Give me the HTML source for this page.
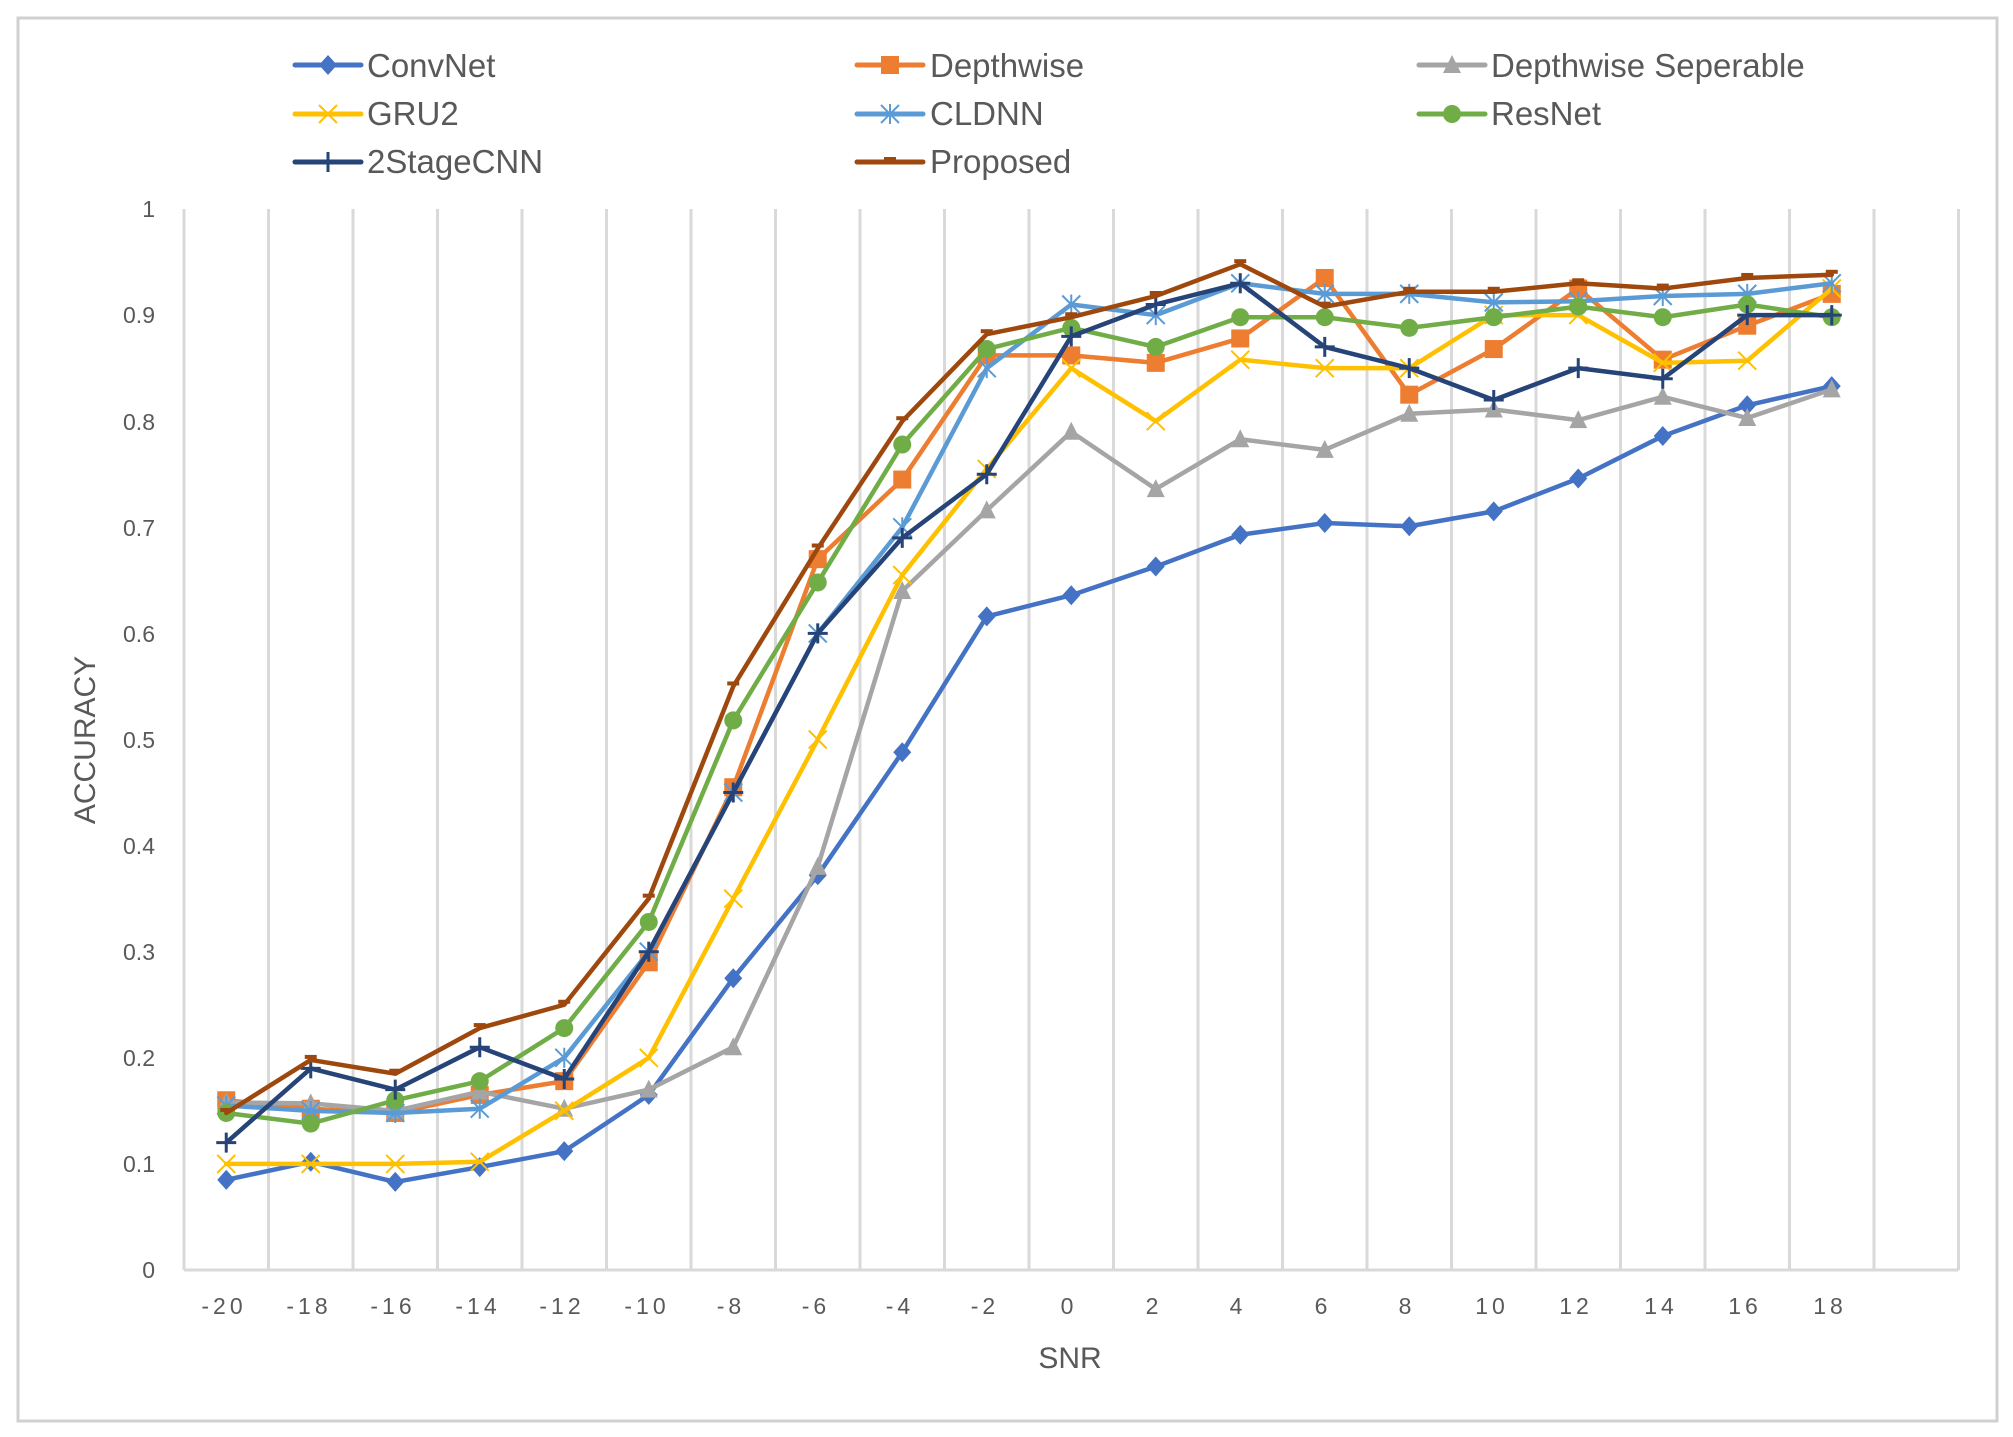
<!DOCTYPE html>
<html><head><meta charset="utf-8"><style>
html,body{margin:0;padding:0;background:#fff;}
svg{display:block;font-family:"Liberation Sans",sans-serif;}
</style></head><body>
<svg id="c" width="2013" height="1437" viewBox="0 0 2013 1437" xmlns="http://www.w3.org/2000/svg">
<rect x="18" y="18" width="1979" height="1403" fill="#fff" stroke="#d0d0d0" stroke-width="3"/>
<g id="grid" stroke="#d9d9d9" stroke-width="3"></g>
<g fill="#595959" font-size="23" text-anchor="end">
<text x="155" y="1278">0</text><text x="155" y="1172">0.1</text><text x="155" y="1066">0.2</text>
<text x="155" y="960">0.3</text><text x="155" y="854">0.4</text><text x="155" y="748">0.5</text>
<text x="155" y="642">0.6</text><text x="155" y="536">0.7</text><text x="155" y="430">0.8</text>
<text x="155" y="323">0.9</text><text x="155" y="217">1</text>
</g>
<g id="xl" fill="#595959" font-size="23" text-anchor="middle" letter-spacing="4">
<text x="224" y="1314">-20</text><text x="309" y="1314">-18</text><text x="393" y="1314">-16</text>
<text x="478" y="1314">-14</text><text x="562" y="1314">-12</text><text x="647" y="1314">-10</text>
<text x="731" y="1314">-8</text><text x="816" y="1314">-6</text><text x="900" y="1314">-4</text>
<text x="985" y="1314">-2</text><text x="1069" y="1314">0</text><text x="1154" y="1314">2</text>
<text x="1238" y="1314">4</text><text x="1323" y="1314">6</text><text x="1407" y="1314">8</text>
<text x="1492" y="1314">10</text><text x="1576" y="1314">12</text><text x="1661" y="1314">14</text>
<text x="1745" y="1314">16</text><text x="1830" y="1314">18</text>
</g>
<text x="1070" y="1368" fill="#595959" font-size="30" text-anchor="middle">SNR</text>
<text x="0" y="0" fill="#595959" font-size="30" text-anchor="middle" transform="translate(95,740) rotate(-90)">ACCURACY</text>
<g fill="#595959" font-size="33">
<text x="367" y="77">ConvNet</text><text x="930" y="77">Depthwise</text><text x="1491" y="77">Depthwise Seperable</text>
<text x="367" y="125">GRU2</text><text x="930" y="125">CLDNN</text><text x="1491" y="125">ResNet</text>
<text x="367" y="173">2StageCNN</text><text x="930" y="173">Proposed</text>
</g>
<g id="series"></g>
</svg>
<script>
var NS="http://www.w3.org/2000/svg";
function el(t,a,p){var e=document.createElementNS(NS,t);for(var k in a)e.setAttribute(k,a[k]);p.appendChild(e);return e;}
var g=document.getElementById('grid');
var L=184,W=84.5,B=1270,H=1061;
for(var i=1;i<=21;i++){el('line',{x1:L+W*i,y1:209,x2:L+W*i,y2:B},g);}
el('line',{x1:L,y1:B,x2:L+W*21,y2:B},g);
el('line',{x1:L,y1:209,x2:L,y2:B},g);
function X(i){return L+W/2+W*i;}function Y(v){return B-H*v;}
var S=[
["#4472C4","d",[.085,.102,.083,.097,.112,.165,.275,.372,.488,.616,.636,.663,.693,.704,.701,.715,.746,.786,.815,.833],295,65],
["#ED7D31","s",[.16,.152,.148,.165,.178,.29,.455,.67,.745,.862,.862,.855,.878,.935,.825,.868,.925,.858,.89,.92],857,65],
["#A5A5A5","t",[.158,.157,.15,.168,.152,.17,.21,.38,.64,.716,.79,.736,.783,.773,.807,.811,.801,.823,.803,.83],1419,65],
["#FFC000","x",[.1,.1,.1,.102,.15,.2,.35,.5,.655,.755,.85,.8,.858,.85,.85,.9,.9,.855,.857,.925],295,114],
["#5B9BD5","a",[.155,.15,.148,.152,.2,.3,.45,.6,.7,.85,.91,.9,.93,.92,.92,.912,.913,.918,.92,.93],857,114],
["#70AD47","c",[.148,.138,.16,.178,.228,.328,.518,.648,.778,.868,.888,.87,.898,.898,.888,.898,.908,.898,.91,.898],1419,114],
["#264478","p",[.12,.19,.17,.21,.18,.3,.45,.6,.69,.75,.88,.91,.93,.87,.85,.82,.85,.84,.9,.9],295,162],
["#9E480E","m",[.148,.198,.185,.228,.25,.35,.55,.68,.8,.882,.898,.918,.948,.908,.922,.922,.93,.925,.935,.938],857,162]
];
var sg=document.getElementById('series');
function mk(type,c,x,y,p){
 if(type=="d")el('path',{d:"M"+x+","+(y-10)+"L"+(x+9)+","+y+"L"+x+","+(y+10)+"L"+(x-9)+","+y+"Z",fill:c},p);
 else if(type=="s")el('rect',{x:x-9,y:y-9,width:18,height:18,fill:c},p);
 else if(type=="t")el('path',{d:"M"+x+","+(y-10)+"L"+(x+9)+","+(y+8)+"L"+(x-9)+","+(y+8)+"Z",fill:c},p);
 else if(type=="x")el('path',{d:"M"+(x-9)+","+(y-9)+"L"+(x+9)+","+(y+9)+"M"+(x+9)+","+(y-9)+"L"+(x-9)+","+(y+9),stroke:c,"stroke-width":2,fill:"none"},p);
 else if(type=="a")el('path',{d:"M"+(x-9)+","+(y-9)+"L"+(x+9)+","+(y+9)+"M"+(x+9)+","+(y-9)+"L"+(x-9)+","+(y+9)+"M"+x+","+(y-10)+"L"+x+","+(y+10),stroke:c,"stroke-width":2,fill:"none"},p);
 else if(type=="c")el('circle',{cx:x,cy:y,r:9,fill:c},p);
 else if(type=="p")el('path',{d:"M"+(x-10)+","+y+"L"+(x+10)+","+y+"M"+x+","+(y-10)+"L"+x+","+(y+10),stroke:c,"stroke-width":3,fill:"none"},p);
 else if(type=="m")el('path',{d:"M"+(x-6)+","+(y-3)+"L"+(x+6)+","+(y-3),stroke:c,"stroke-width":4,fill:"none"},p);
}
S.forEach(function(s){
 var pts=s[2].map(function(v,i){return X(i)+","+Y(v);}).join(" ");
 el('polyline',{points:pts,fill:"none",stroke:s[0],"stroke-width":4.5,"stroke-linejoin":"round","stroke-linecap":"round"},sg);
 s[2].forEach(function(v,i){mk(s[1],s[0],X(i),Y(v),sg);});
 el('line',{x1:s[3],y1:s[4],x2:s[3]+66,y2:s[4],stroke:s[0],"stroke-width":5,"stroke-linecap":"round"},sg);
 mk(s[1],s[0],s[3]+33,s[4],sg);
});
</script>
</body></html>
